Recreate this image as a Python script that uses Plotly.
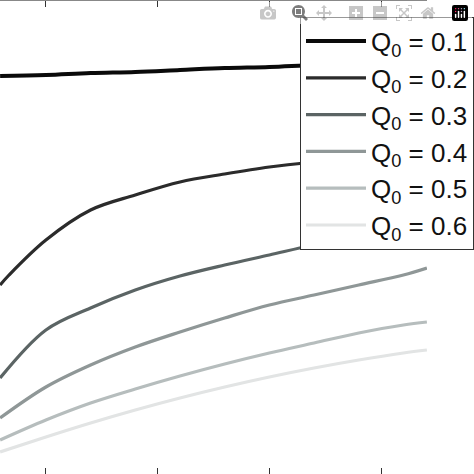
import plotly.graph_objects as go

x_grid = [0.59, 1.0, 1.4, 1.8, 2.2, 2.6, 3.0, 3.4, 3.8, 4.2, 4.41]
x_kink = [0.59, 0.67, 1.0, 1.4, 1.8, 2.2, 2.6, 3.0, 3.4, 3.8, 4.2, 4.41]

y1 = [3.98, 3.99, 4.01, 4.02, 4.04, 4.06, 4.07, 4.09, 4.10, 4.11, 4.12]
y2 = [1.89, 1.99, 2.34, 2.64, 2.79, 2.92, 3.00, 3.07, 3.12, 3.16, 3.18, 3.19]
y3 = [0.96, 1.44, 1.66, 1.84, 1.98, 2.09, 2.19, 2.29, 2.36, 2.42, 2.45]
y4 = [0.56, 0.87, 1.09, 1.27, 1.42, 1.56, 1.69, 1.79, 1.89, 1.99, 2.06]
y5 = [0.34, 0.54, 0.71, 0.85, 0.98, 1.10, 1.21, 1.31, 1.41, 1.49, 1.52]
y6 = [0.22, 0.37, 0.51, 0.64, 0.76, 0.87, 0.97, 1.06, 1.14, 1.21, 1.24]

labels = ["Q<sub>0</sub> = 0.1", "Q<sub>0</sub> = 0.2", "Q<sub>0</sub> = 0.3",
          "Q<sub>0</sub> = 0.4", "Q<sub>0</sub> = 0.5", "Q<sub>0</sub> = 0.6"]
colors = ["#0a0a0a", "#2b2b2b", "#5b6464", "#8f9797", "#b6bdbd", "#e2e4e4"]

series = [(x_grid, y1), (x_kink, y2), (x_grid, y3), (x_grid, y4), (x_grid, y5), (x_grid, y6)]

fig = go.Figure()
for i, (xs, ys) in enumerate(series):
    fig.add_trace(go.Scatter(
        x=xs, y=ys, mode="lines", name=labels[i],
        line=dict(color=colors[i], width=4 if i == 0 else 3.2, shape="spline", smoothing=1.0),
    ))

fig.update_layout(
    width=474, height=474,
    margin=dict(l=0, r=0, t=1, b=0),
    plot_bgcolor="white", paper_bgcolor="white",
    showlegend=True,
    legend=dict(
        x=0.703, y=0.967, xanchor="left", yanchor="top",
        bgcolor="white", bordercolor="#333333", borderwidth=1,
        font=dict(family="Liberation Sans, Arial", size=26, color="#111111"),
        tracegroupgap=0, itemwidth=60,
    ),
    xaxis=dict(
        range=[0.589, 4.411], tickvals=[1, 2, 3, 4], showticklabels=False,
        ticks="inside", ticklen=6, tickcolor="#333333",
        showline=True, linecolor="#888888", linewidth=2, mirror="ticks",
        showgrid=False, zeroline=False,
    ),
    yaxis=dict(
        range=[0, 4.73], showticklabels=False, ticks="",
        showgrid=False, zeroline=False, showline=False,
    ),
)

fig.write_html("out.html", post_script="document.body.style.margin='0';")
